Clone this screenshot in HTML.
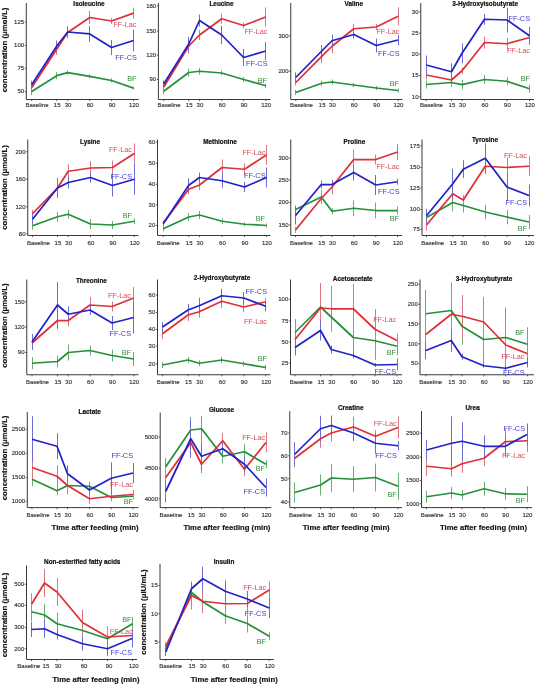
<!DOCTYPE html>
<html><head><meta charset="utf-8"><style>
html,body{margin:0;padding:0;background:#fff;}
svg{display:block;filter:blur(0.3px);font-family:"Liberation Sans",sans-serif;}
.ax{fill:none;stroke:#3a3a3a;stroke-width:1;}
.tk{fill:none;stroke:#3a3a3a;stroke-width:0.8;}
.yt{font-size:6px;fill:#333;stroke:#333;stroke-width:0.15px;text-anchor:end;}
.xt{font-size:6px;fill:#333;stroke:#333;stroke-width:0.15px;text-anchor:middle;}
.eb{fill:none;stroke-width:1;}
.ln{fill:none;stroke-width:1.75;stroke-linejoin:round;}
.gl{font-size:7.3px;text-anchor:end;}
.ti{font-size:6.5px;font-weight:bold;fill:#111;stroke:#111;stroke-width:0.2px;text-anchor:middle;}
.tl{font-size:7.7px;font-weight:bold;fill:#111;stroke:#111;stroke-width:0.15px;text-anchor:middle;}
.yl{font-size:7.8px;font-weight:bold;fill:#111;stroke:#111;stroke-width:0.15px;text-anchor:middle;}
</style></head><body>
<svg width="536" height="685" viewBox="0 0 536 685">
<path d="M26.3 3V99.5H138.7" class="ax"/>
<path d="M24.7 22H26.3" class="tk"/>
<text x="24.1" y="23.9" class="yt">125</text>
<path d="M24.7 45.5H26.3" class="tk"/>
<text x="24.1" y="47.4" class="yt">100</text>
<path d="M24.7 68.2H26.3" class="tk"/>
<text x="24.1" y="70.1" class="yt">75</text>
<path d="M24.7 91.5H26.3" class="tk"/>
<text x="24.1" y="93.4" class="yt">50</text>
<path d="M31.7 99.5V101.1" class="tk"/>
<path d="M56.8 99.5V101.1" class="tk"/>
<path d="M67.7 99.5V101.1" class="tk"/>
<path d="M89.7 99.5V101.1" class="tk"/>
<path d="M111.6 99.5V101.1" class="tk"/>
<path d="M133.5 99.5V101.1" class="tk"/>
<text x="25.5" y="107.4" class="xt" style="text-anchor:start">Baseline</text>
<text x="57.2" y="107.4" class="xt">15</text>
<text x="68.1" y="107.4" class="xt">30</text>
<text x="90.1" y="107.4" class="xt">60</text>
<text x="112" y="107.4" class="xt">90</text>
<text x="133.9" y="107.4" class="xt">120</text>
<path d="M31.5 87.8V95M56.5 72.1V79.3M67.5 70.4V74.8M89.5 74.3V78.3M111.5 78.5V82.5M133.5 86.7V89.7" stroke="#6aae74" class="eb"/>
<path d="M31.5 84.6V90.6M56.5 42.9V54.9M67.5 26.5V38.5M89.5 11V24M111.5 18V24M133.5 7.6V18.6" stroke="#dc7680" class="eb"/>
<path d="M31.5 80.7V88.7M56.5 40.5V51.5M67.5 26.5V37.5M89.5 25.9V41.9M111.5 40V55M133.5 29.5V51.5" stroke="#6c6cd8" class="eb"/>
<polyline points="31.7,91.4 56.8,75.7 67.7,72.6 89.7,76.3 111.6,80.5 133.5,88.2" stroke="#249038" class="ln"/>
<polyline points="31.7,87.6 56.8,48.9 67.7,32.5 89.7,17.5 111.6,21 133.5,13.1" stroke="#df2f38" class="ln"/>
<polyline points="31.7,84.7 56.8,46 67.7,32 89.7,33.9 111.6,47.5 133.5,40.5" stroke="#2222c8" class="ln"/>
<text x="136.5" y="27.4" fill="#d94a56" class="gl">FF-Lac</text>
<text x="136.8" y="59.6" fill="#3c3cc8" class="gl">FF-CS</text>
<text x="136.5" y="81.4" fill="#2f8f3c" class="gl">BF</text>
<text x="89" y="6.3" class="ti" style="font-size:6.4px">Isoleucine</text>
<path d="M158.4 3V99.5H270.5" class="ax"/>
<path d="M156.8 6H158.4" class="tk"/>
<text x="156.2" y="7.9" class="yt">180</text>
<path d="M156.8 31H158.4" class="tk"/>
<text x="156.2" y="32.9" class="yt">150</text>
<path d="M156.8 55.1H158.4" class="tk"/>
<text x="156.2" y="57" class="yt">120</text>
<path d="M156.8 79.5H158.4" class="tk"/>
<text x="156.2" y="81.4" class="yt">90</text>
<path d="M163.75 99.5V101.1" class="tk"/>
<path d="M188.75 99.5V101.1" class="tk"/>
<path d="M199.5 99.5V101.1" class="tk"/>
<path d="M221.75 99.5V101.1" class="tk"/>
<path d="M243.6 99.5V101.1" class="tk"/>
<path d="M265.75 99.5V101.1" class="tk"/>
<text x="157.6" y="107.4" class="xt" style="text-anchor:start">Baseline</text>
<text x="189.15" y="107.4" class="xt">15</text>
<text x="199.9" y="107.4" class="xt">30</text>
<text x="222.15" y="107.4" class="xt">60</text>
<text x="244" y="107.4" class="xt">90</text>
<text x="266.15" y="107.4" class="xt">120</text>
<path d="M163.5 88.25V94.25M188.5 68.5V76.5M199.5 67.75V74.75M221.5 70.5V75.5M243.5 77V82M265.5 83.75V87.75" stroke="#6aae74" class="eb"/>
<path d="M163.5 84V90M188.5 38.5V53.5M199.5 30V40M221.5 13.75V23.75M243.5 22.5V28.5M265.5 7.5V26.5" stroke="#dc7680" class="eb"/>
<path d="M163.5 80.5V87.5M188.5 37V51M199.5 14.5V26.5M221.5 26V44M243.5 49V66M265.5 42V60" stroke="#6c6cd8" class="eb"/>
<polyline points="163.75,91.25 188.75,72.5 199.5,71.25 221.75,73 243.6,79.5 265.75,85.75" stroke="#249038" class="ln"/>
<polyline points="163.75,87 188.75,46 199.5,35 221.75,18.75 243.6,25.5 265.75,17" stroke="#df2f38" class="ln"/>
<polyline points="163.75,84 188.75,44 199.5,20.5 221.75,35 243.6,57.5 265.75,51" stroke="#2222c8" class="ln"/>
<text x="267.5" y="33.6" fill="#d94a56" class="gl">FF-Lac</text>
<text x="267.5" y="65.6" fill="#3c3cc8" class="gl">FF-CS</text>
<text x="267" y="82.6" fill="#2f8f3c" class="gl">BF</text>
<text x="221.5" y="6.3" class="ti" style="font-size:6.4px">Leucine</text>
<path d="M290.75 3V99.5H402.5" class="ax"/>
<path d="M289.15 35.75H290.75" class="tk"/>
<text x="288.55" y="37.65" class="yt">300</text>
<path d="M289.15 71.25H290.75" class="tk"/>
<text x="288.55" y="73.15" class="yt">200</text>
<path d="M295.75 99.5V101.1" class="tk"/>
<path d="M321.75 99.5V101.1" class="tk"/>
<path d="M332 99.5V101.1" class="tk"/>
<path d="M353.75 99.5V101.1" class="tk"/>
<path d="M376.25 99.5V101.1" class="tk"/>
<path d="M398 99.5V101.1" class="tk"/>
<text x="289.95" y="107.4" class="xt" style="text-anchor:start">Baseline</text>
<text x="322.15" y="107.4" class="xt">15</text>
<text x="332.4" y="107.4" class="xt">30</text>
<text x="354.15" y="107.4" class="xt">60</text>
<text x="376.65" y="107.4" class="xt">90</text>
<text x="398.4" y="107.4" class="xt">120</text>
<path d="M295.5 90V95M321.5 80.75V85.75M332.5 79.5V84.5M353.5 83V87M376.5 86V90M398.5 88.5V92.5" stroke="#6aae74" class="eb"/>
<path d="M295.5 79.5V85.5M321.5 49.3V63.3M332.5 39.25V53.25M353.5 23.75V33.75M376.5 24V30M398.5 7.25V25.25" stroke="#dc7680" class="eb"/>
<path d="M295.5 72.5V82.5M321.5 45V57M332.5 34.75V46.75M353.5 30.5V38.5M376.5 38.5V52.5M398.5 35V45" stroke="#6c6cd8" class="eb"/>
<polyline points="295.75,92.5 321.75,83.25 332,82 353.75,85 376.25,88 398,90.5" stroke="#249038" class="ln"/>
<polyline points="295.75,82.5 321.75,56.3 332,46.25 353.75,28.75 376.25,27 398,16.25" stroke="#df2f38" class="ln"/>
<polyline points="295.75,77.5 321.75,51 332,40.75 353.75,34.5 376.25,45.5 398,40" stroke="#2222c8" class="ln"/>
<text x="399.5" y="33.85" fill="#d94a56" class="gl">FF-Lac</text>
<text x="399.5" y="55.85" fill="#3c3cc8" class="gl">FF-CS</text>
<text x="399" y="85.85" fill="#2f8f3c" class="gl">BF</text>
<text x="353.75" y="6.3" class="ti" style="font-size:6.4px">Valine</text>
<path d="M420.75 3V99.5H534" class="ax"/>
<path d="M419.15 11.75H420.75" class="tk"/>
<text x="418.55" y="13.65" class="yt">30</text>
<path d="M419.15 33H420.75" class="tk"/>
<text x="418.55" y="34.9" class="yt">25</text>
<path d="M419.15 54.25H420.75" class="tk"/>
<text x="418.55" y="56.15" class="yt">20</text>
<path d="M419.15 75.5H420.75" class="tk"/>
<text x="418.55" y="77.4" class="yt">15</text>
<path d="M419.15 96.75H420.75" class="tk"/>
<text x="418.55" y="98.65" class="yt">10</text>
<path d="M426.25 99.5V101.1" class="tk"/>
<path d="M451.5 99.5V101.1" class="tk"/>
<path d="M462 99.5V101.1" class="tk"/>
<path d="M484.5 99.5V101.1" class="tk"/>
<path d="M507 99.5V101.1" class="tk"/>
<path d="M529.5 99.5V101.1" class="tk"/>
<text x="419.95" y="107.4" class="xt" style="text-anchor:start">Baseline</text>
<text x="451.9" y="107.4" class="xt">15</text>
<text x="462.4" y="107.4" class="xt">30</text>
<text x="484.9" y="107.4" class="xt">60</text>
<text x="507.4" y="107.4" class="xt">90</text>
<text x="529.9" y="107.4" class="xt">120</text>
<path d="M426.5 80.5V88.5M451.5 78.1V86.9M462.5 80V89.4M484.5 75V84M507.5 77.25V85.25M529.5 84.75V92.75" stroke="#6aae74" class="eb"/>
<path d="M426.5 70.6V79.4M451.5 77V83M462.5 67.45V74.05M484.5 36.5V48.5M507.5 37.75V49.75M529.5 31.5V43.5" stroke="#dc7680" class="eb"/>
<path d="M426.5 55.5V74.5M451.5 63.35V80.15M462.5 43.4V63.2M484.5 13.75V24.75M507.5 7.5V32.5M529.5 26.75V44.75" stroke="#6c6cd8" class="eb"/>
<polyline points="426.25,84.5 451.5,82.5 462,84.7 484.5,79.5 507,81.25 529.5,88.75" stroke="#249038" class="ln"/>
<polyline points="426.25,75 451.5,80 462,70.75 484.5,42.5 507,43.75 529.5,37.5" stroke="#df2f38" class="ln"/>
<polyline points="426.25,65 451.5,71.75 462,53.3 484.5,19.25 507,20 529.5,35.75" stroke="#2222c8" class="ln"/>
<text x="530" y="20.6" fill="#3c3cc8" class="gl">FF-CS</text>
<text x="530" y="52.6" fill="#d94a56" class="gl">FF-Lac</text>
<text x="530" y="80.85" fill="#2f8f3c" class="gl">BF</text>
<text x="485.1" y="6.3" class="ti" style="font-size:6.4px">3-Hydroxyisobutyrate</text>
<path d="M27.75 139.5V235.5H138.5" class="ax"/>
<path d="M26.15 151.75H27.75" class="tk"/>
<text x="25.55" y="153.65" class="yt">200</text>
<path d="M26.15 179.25H27.75" class="tk"/>
<text x="25.55" y="181.15" class="yt">160</text>
<path d="M26.15 206.75H27.75" class="tk"/>
<text x="25.55" y="208.65" class="yt">120</text>
<path d="M26.15 233.75H27.75" class="tk"/>
<text x="25.55" y="235.65" class="yt">80</text>
<path d="M32.5 235.5V237.1" class="tk"/>
<path d="M57.5 235.5V237.1" class="tk"/>
<path d="M68.25 235.5V237.1" class="tk"/>
<path d="M90.5 235.5V237.1" class="tk"/>
<path d="M112.5 235.5V237.1" class="tk"/>
<path d="M134.25 235.5V237.1" class="tk"/>
<text x="26.95" y="245.15" class="xt" style="text-anchor:start">Baseline</text>
<text x="57.9" y="245.15" class="xt">15</text>
<text x="68.65" y="245.15" class="xt">30</text>
<text x="90.9" y="245.15" class="xt">60</text>
<text x="112.9" y="245.15" class="xt">90</text>
<text x="134.65" y="245.15" class="xt">120</text>
<path d="M32.5 221.75V229.75M57.5 211.75V221.75M68.5 209.75V218.75M90.5 219V229M112.5 221V229M134.5 218.25V224.25" stroke="#6aae74" class="eb"/>
<path d="M32.5 209.75V217.75M57.5 182V194M68.5 164.25V178.25M90.5 161V175M112.5 160.5V174.5M134.5 143.5V163.5" stroke="#dc7680" class="eb"/>
<path d="M32.5 214.25V224.25M57.5 178V198M68.5 176.5V188.5M90.5 172.5V182.5M112.5 174.5V196.5M134.5 163.75V194.75" stroke="#6c6cd8" class="eb"/>
<polyline points="32.5,225.75 57.5,216.75 68.25,214.25 90.5,224 112.5,225 134.25,221.25" stroke="#249038" class="ln"/>
<polyline points="32.5,213.75 57.5,188 68.25,171.25 90.5,168 112.5,167.5 134.25,153.5" stroke="#df2f38" class="ln"/>
<polyline points="32.5,219.25 57.5,188 68.25,182.5 90.5,177.5 112.5,185.5 134.25,179.25" stroke="#2222c8" class="ln"/>
<text x="132" y="152.1" fill="#d94a56" class="gl">FF-Lac</text>
<text x="132" y="178.85" fill="#3c3cc8" class="gl">FF-CS</text>
<text x="132" y="218.1" fill="#2f8f3c" class="gl">BF</text>
<text x="90" y="144.05" class="ti" style="font-size:6.4px">Lysine</text>
<path d="M157.5 139.5V235.5H270.5" class="ax"/>
<path d="M155.9 142H157.5" class="tk"/>
<text x="155.3" y="143.9" class="yt">60</text>
<path d="M155.9 163.25H157.5" class="tk"/>
<text x="155.3" y="165.15" class="yt">50</text>
<path d="M155.9 184.25H157.5" class="tk"/>
<text x="155.3" y="186.15" class="yt">40</text>
<path d="M155.9 205H157.5" class="tk"/>
<text x="155.3" y="206.9" class="yt">30</text>
<path d="M155.9 225.5H157.5" class="tk"/>
<text x="155.3" y="227.4" class="yt">20</text>
<path d="M163.25 235.5V237.1" class="tk"/>
<path d="M188.75 235.5V237.1" class="tk"/>
<path d="M199.5 235.5V237.1" class="tk"/>
<path d="M222 235.5V237.1" class="tk"/>
<path d="M244.5 235.5V237.1" class="tk"/>
<path d="M266.5 235.5V237.1" class="tk"/>
<text x="156.7" y="245.15" class="xt" style="text-anchor:start">Baseline</text>
<text x="189.15" y="245.15" class="xt">15</text>
<text x="199.9" y="245.15" class="xt">30</text>
<text x="222.4" y="245.15" class="xt">60</text>
<text x="244.9" y="245.15" class="xt">90</text>
<text x="266.9" y="245.15" class="xt">120</text>
<path d="M163.5 226.25V231.25M188.5 213V221M199.5 211V219M222.5 218.25V224.25M244.5 222.25V226.25M266.5 223.5V227.5" stroke="#6aae74" class="eb"/>
<path d="M163.5 220.5V225.5M188.5 184.25V194.25M199.5 180V190M222.5 159.5V175.5M244.5 163.25V175.25M266.5 145V165" stroke="#dc7680" class="eb"/>
<path d="M163.5 221.25V226.25M188.5 178.3V192.3M199.5 172.5V182.5M222.5 173.75V187.75M244.5 182V192M266.5 167.5V187.5" stroke="#6c6cd8" class="eb"/>
<polyline points="163.25,228.75 188.75,217 199.5,215 222,221.25 244.5,224.25 266.5,225.5" stroke="#249038" class="ln"/>
<polyline points="163.25,223 188.75,189.25 199.5,185 222,167.5 244.5,169.25 266.5,155" stroke="#df2f38" class="ln"/>
<polyline points="163.25,223.75 188.75,185.3 199.5,177.5 222,180.75 244.5,187 266.5,177.5" stroke="#2222c8" class="ln"/>
<text x="265.5" y="155.1" fill="#d94a56" class="gl">FF-Lac</text>
<text x="265.5" y="177.6" fill="#3c3cc8" class="gl">FF-CS</text>
<text x="265" y="220.6" fill="#2f8f3c" class="gl">BF</text>
<text x="220" y="144.05" class="ti" style="font-size:6.4px">Methionine</text>
<path d="M290.75 139.5V235.5H402" class="ax"/>
<path d="M289.15 158H290.75" class="tk"/>
<text x="288.55" y="159.9" class="yt">300</text>
<path d="M289.15 180H290.75" class="tk"/>
<text x="288.55" y="181.9" class="yt">250</text>
<path d="M289.15 202.5H290.75" class="tk"/>
<text x="288.55" y="204.4" class="yt">200</text>
<path d="M289.15 225H290.75" class="tk"/>
<text x="288.55" y="226.9" class="yt">150</text>
<path d="M295.5 235.5V237.1" class="tk"/>
<path d="M321.25 235.5V237.1" class="tk"/>
<path d="M332 235.5V237.1" class="tk"/>
<path d="M353.75 235.5V237.1" class="tk"/>
<path d="M375.75 235.5V237.1" class="tk"/>
<path d="M397.5 235.5V237.1" class="tk"/>
<text x="289.95" y="245.15" class="xt" style="text-anchor:start">Baseline</text>
<text x="321.65" y="245.15" class="xt">15</text>
<text x="332.4" y="245.15" class="xt">30</text>
<text x="354.15" y="245.15" class="xt">60</text>
<text x="376.15" y="245.15" class="xt">90</text>
<text x="397.9" y="245.15" class="xt">120</text>
<path d="M295.5 205.5V213.5M321.5 190V204M332.5 208.25V214.25M353.5 200.25V216.25M375.5 202.5V218.5M397.5 206.5V214.5" stroke="#6aae74" class="eb"/>
<path d="M295.5 227V233M321.5 194.5V202.5M332.5 179.7V194.3M353.5 149.5V169.5M375.5 154.5V164.5M397.5 144V160" stroke="#dc7680" class="eb"/>
<path d="M295.5 206.5V224.5M321.5 180.5V188.5M332.5 180.5V188.5M353.5 164.5V180.5M375.5 175V195M397.5 178.75V184.75" stroke="#6c6cd8" class="eb"/>
<polyline points="295.5,209.5 321.25,197 332,211.25 353.75,208.25 375.75,210.5 397.5,210.5" stroke="#249038" class="ln"/>
<polyline points="295.5,230 321.25,198.5 332,187 353.75,159.5 375.75,159.5 397.5,152" stroke="#df2f38" class="ln"/>
<polyline points="295.5,215.5 321.25,184.5 332,184.5 353.75,172.5 375.75,185 397.5,181.75" stroke="#2222c8" class="ln"/>
<text x="399.5" y="168.85" fill="#d94a56" class="gl">FF-Lac</text>
<text x="399.5" y="193.85" fill="#3c3cc8" class="gl">FF-CS</text>
<text x="399" y="221.35" fill="#2f8f3c" class="gl">BF</text>
<text x="354.4" y="144.05" class="ti" style="font-size:6.4px">Proline</text>
<path d="M422 139.5V235.5H534" class="ax"/>
<path d="M420.4 145.75H422" class="tk"/>
<text x="419.8" y="147.65" class="yt">175</text>
<path d="M420.4 167.5H422" class="tk"/>
<text x="419.8" y="169.4" class="yt">150</text>
<path d="M420.4 188H422" class="tk"/>
<text x="419.8" y="189.9" class="yt">125</text>
<path d="M420.4 209.5H422" class="tk"/>
<text x="419.8" y="211.4" class="yt">100</text>
<path d="M420.4 229.5H422" class="tk"/>
<text x="419.8" y="231.4" class="yt">75</text>
<path d="M426.5 235.5V237.1" class="tk"/>
<path d="M452.75 235.5V237.1" class="tk"/>
<path d="M463.25 235.5V237.1" class="tk"/>
<path d="M485.25 235.5V237.1" class="tk"/>
<path d="M507 235.5V237.1" class="tk"/>
<path d="M529 235.5V237.1" class="tk"/>
<text x="421.2" y="245.15" class="xt" style="text-anchor:start">Baseline</text>
<text x="453.15" y="245.15" class="xt">15</text>
<text x="463.65" y="245.15" class="xt">30</text>
<text x="485.65" y="245.15" class="xt">60</text>
<text x="507.4" y="245.15" class="xt">90</text>
<text x="529.4" y="245.15" class="xt">120</text>
<path d="M426.5 212.5V222.5M452.5 193.5V211.5M463.5 198.5V212.5M485.5 205V219M507.5 209.7V224.3M529.5 215V229" stroke="#6aae74" class="eb"/>
<path d="M426.5 219.2V230.8M452.5 187.75V199.75M463.5 195V205M485.5 158.25V174.25M507.5 157.5V177.5M529.5 156.25V176.25" stroke="#dc7680" class="eb"/>
<path d="M426.5 208.75V222.75M452.5 168.75V198.75M463.5 160.25V178.25M485.5 143.25V173.25M507.5 173V201M529.5 184.5V206.5" stroke="#6c6cd8" class="eb"/>
<polyline points="426.5,217.5 452.75,202.5 463.25,205.5 485.25,212 507,217 529,222" stroke="#249038" class="ln"/>
<polyline points="426.5,225 452.75,193.75 463.25,200 485.25,166.25 507,167.5 529,166.25" stroke="#df2f38" class="ln"/>
<polyline points="426.5,215.75 452.75,183.75 463.25,169.25 485.25,158.25 507,187 529,195.5" stroke="#2222c8" class="ln"/>
<text x="527" y="157.6" fill="#d94a56" class="gl">FF-Lac</text>
<text x="527" y="205.1" fill="#3c3cc8" class="gl">FF-CS</text>
<text x="527" y="230.85" fill="#2f8f3c" class="gl">BF</text>
<text x="485" y="142" class="ti" style="font-size:6.4px">Tyrosine</text>
<path d="M26.75 279.5V374.75H138.5" class="ax"/>
<path d="M25.15 301.75H26.75" class="tk"/>
<text x="24.55" y="303.65" class="yt">150</text>
<path d="M25.15 327H26.75" class="tk"/>
<text x="24.55" y="328.9" class="yt">120</text>
<path d="M25.15 352.5H26.75" class="tk"/>
<text x="24.55" y="354.4" class="yt">90</text>
<path d="M32 374.75V376.35" class="tk"/>
<path d="M57.5 374.75V376.35" class="tk"/>
<path d="M68.25 374.75V376.35" class="tk"/>
<path d="M90 374.75V376.35" class="tk"/>
<path d="M112 374.75V376.35" class="tk"/>
<path d="M133.75 374.75V376.35" class="tk"/>
<text x="25.95" y="383.65" class="xt" style="text-anchor:start">Baseline</text>
<text x="57.9" y="383.65" class="xt">15</text>
<text x="68.65" y="383.65" class="xt">30</text>
<text x="90.4" y="383.65" class="xt">60</text>
<text x="112.4" y="383.65" class="xt">90</text>
<text x="134.15" y="383.65" class="xt">120</text>
<path d="M32.5 357.25V369.25M57.5 355.5V367.5M68.5 344.5V360.5M90.5 345.5V355.5M112.5 349.5V361.5M133.5 352V366" stroke="#6aae74" class="eb"/>
<path d="M32.5 338V348M57.5 311.5V329.5M68.5 314.5V326.5M90.5 297V313M112.5 301.5V311.5M133.5 287V309" stroke="#dc7680" class="eb"/>
<path d="M32.5 334V350M57.5 282V328M68.5 306.25V322.25M90.5 305V315M112.5 316V330M133.5 301.5V333.5" stroke="#6c6cd8" class="eb"/>
<polyline points="32,363.25 57.5,361.5 68.25,352.5 90,350.5 112,355.5 133.75,359" stroke="#249038" class="ln"/>
<polyline points="32,343 57.5,320.5 68.25,320.5 90,305 112,306.5 133.75,298" stroke="#df2f38" class="ln"/>
<polyline points="32,342 57.5,305 68.25,314.25 90,310 112,323 133.75,317.5" stroke="#2222c8" class="ln"/>
<text x="131" y="297.6" fill="#d94a56" class="gl">FF-Lac</text>
<text x="131" y="336.35" fill="#3c3cc8" class="gl">FF-CS</text>
<text x="131" y="355.1" fill="#2f8f3c" class="gl">BF</text>
<text x="91.4" y="283.05" class="ti" style="font-size:6.4px">Threonine</text>
<path d="M157.5 279.5V374.75H270.5" class="ax"/>
<path d="M155.9 295H157.5" class="tk"/>
<text x="155.3" y="296.9" class="yt">60</text>
<path d="M155.9 312.5H157.5" class="tk"/>
<text x="155.3" y="314.4" class="yt">50</text>
<path d="M155.9 329.5H157.5" class="tk"/>
<text x="155.3" y="331.4" class="yt">40</text>
<path d="M155.9 346.25H157.5" class="tk"/>
<text x="155.3" y="348.15" class="yt">30</text>
<path d="M155.9 363.75H157.5" class="tk"/>
<text x="155.3" y="365.65" class="yt">20</text>
<path d="M162.5 374.75V376.35" class="tk"/>
<path d="M188 374.75V376.35" class="tk"/>
<path d="M199.25 374.75V376.35" class="tk"/>
<path d="M221.75 374.75V376.35" class="tk"/>
<path d="M243.75 374.75V376.35" class="tk"/>
<path d="M265.75 374.75V376.35" class="tk"/>
<text x="156.7" y="383.65" class="xt" style="text-anchor:start">Baseline</text>
<text x="188.4" y="383.65" class="xt">15</text>
<text x="199.65" y="383.65" class="xt">30</text>
<text x="222.15" y="383.65" class="xt">60</text>
<text x="244.15" y="383.65" class="xt">90</text>
<text x="266.15" y="383.65" class="xt">120</text>
<path d="M162.5 362V368M188.5 357V363M199.5 360.25V366.25M221.5 357V363M243.5 361.25V366.25M265.5 365V370" stroke="#6aae74" class="eb"/>
<path d="M162.5 328.75V338.75M188.5 309V321M199.5 305.75V317.75M221.5 294.25V308.25M243.5 302V312M265.5 297.75V305.75" stroke="#dc7680" class="eb"/>
<path d="M162.5 322V332M188.5 304V316M199.5 297.75V313.75M221.5 288.75V302.75M243.5 292V304M265.5 301.25V311.25" stroke="#6c6cd8" class="eb"/>
<polyline points="162.5,365 188,360 199.25,363.25 221.75,360 243.75,363.75 265.75,367.5" stroke="#249038" class="ln"/>
<polyline points="162.5,333.75 188,315 199.25,311.75 221.75,301.25 243.75,307 265.75,301.75" stroke="#df2f38" class="ln"/>
<polyline points="162.5,327 188,310 199.25,305.75 221.75,295.75 243.75,298 265.75,306.25" stroke="#2222c8" class="ln"/>
<text x="267" y="293.85" fill="#3c3cc8" class="gl">FF-CS</text>
<text x="267" y="323.85" fill="#d94a56" class="gl">FF-Lac</text>
<text x="267" y="360.6" fill="#2f8f3c" class="gl">BF</text>
<text x="222" y="279.8" class="ti" style="font-size:6.4px">2-Hydroxybutyrate</text>
<path d="M290.5 279.5V374.75H402" class="ax"/>
<path d="M288.9 299.5H290.5" class="tk"/>
<text x="288.3" y="301.4" class="yt">100</text>
<path d="M288.9 320.75H290.5" class="tk"/>
<text x="288.3" y="322.65" class="yt">75</text>
<path d="M288.9 342H290.5" class="tk"/>
<text x="288.3" y="343.9" class="yt">50</text>
<path d="M288.9 363H290.5" class="tk"/>
<text x="288.3" y="364.9" class="yt">25</text>
<path d="M295 374.75V376.35" class="tk"/>
<path d="M320.5 374.75V376.35" class="tk"/>
<path d="M331.25 374.75V376.35" class="tk"/>
<path d="M353.25 374.75V376.35" class="tk"/>
<path d="M375 374.75V376.35" class="tk"/>
<path d="M397 374.75V376.35" class="tk"/>
<text x="289.7" y="383.65" class="xt" style="text-anchor:start">Baseline</text>
<text x="320.9" y="383.65" class="xt">15</text>
<text x="331.65" y="383.65" class="xt">30</text>
<text x="353.65" y="383.65" class="xt">60</text>
<text x="375.4" y="383.65" class="xt">90</text>
<text x="397.4" y="383.65" class="xt">120</text>
<path d="M295.5 319.1V345.9M320.5 283V331M331.5 307V327M353.5 321.5V353.5M375.5 321.75V359.75M397.5 337.25V355.25" stroke="#6aae74" class="eb"/>
<path d="M295.5 327V352M320.5 284V332M331.5 285.75V331.75M353.5 283.75V333.75M375.5 309.25V349.25M397.5 333.8V347.2" stroke="#dc7680" class="eb"/>
<path d="M295.5 339.5V355.5M320.5 320.5V340.5M331.5 345.5V353.5M353.5 352.5V358.5M375.5 363V367M397.5 358.5V370.5" stroke="#6c6cd8" class="eb"/>
<polyline points="295,332.5 320.5,307 331.25,317 353.25,337.5 375,340.75 397,346.25" stroke="#249038" class="ln"/>
<polyline points="295,339.5 320.5,308 331.25,308.75 353.25,308.75 375,329.25 397,340.5" stroke="#df2f38" class="ln"/>
<polyline points="295,347.5 320.5,330.5 331.25,349.5 353.25,355.5 375,365 397,364.5" stroke="#2222c8" class="ln"/>
<text x="396.25" y="322.1" fill="#d94a56" class="gl">FF-Lac</text>
<text x="396" y="354.6" fill="#2f8f3c" class="gl">BF</text>
<text x="396" y="373.85" fill="#3c3cc8" class="gl">FF-CS</text>
<text x="352.75" y="281.05" class="ti" style="font-size:6.4px">Acetoacetate</text>
<path d="M420 279.5V374.75H534" class="ax"/>
<path d="M418.4 284.5H420" class="tk"/>
<text x="417.8" y="286.4" class="yt">250</text>
<path d="M418.4 304.25H420" class="tk"/>
<text x="417.8" y="306.15" class="yt">200</text>
<path d="M418.4 323.75H420" class="tk"/>
<text x="417.8" y="325.65" class="yt">150</text>
<path d="M418.4 343.75H420" class="tk"/>
<text x="417.8" y="345.65" class="yt">100</text>
<path d="M418.4 363.25H420" class="tk"/>
<text x="417.8" y="365.15" class="yt">50</text>
<path d="M425.75 374.75V376.35" class="tk"/>
<path d="M451.25 374.75V376.35" class="tk"/>
<path d="M462 374.75V376.35" class="tk"/>
<path d="M483.75 374.75V376.35" class="tk"/>
<path d="M505.75 374.75V376.35" class="tk"/>
<path d="M527.5 374.75V376.35" class="tk"/>
<text x="419.2" y="383.65" class="xt" style="text-anchor:start">Baseline</text>
<text x="451.65" y="383.65" class="xt">15</text>
<text x="462.4" y="383.65" class="xt">30</text>
<text x="484.15" y="383.65" class="xt">60</text>
<text x="506.15" y="383.65" class="xt">90</text>
<text x="527.9" y="383.65" class="xt">120</text>
<path d="M425.5 289.75V337.75M451.5 282.5V338.5M462.5 307.85V344.65M483.5 314V365M505.5 307.5V367.5M527.5 327.25V361.25" stroke="#6aae74" class="eb"/>
<path d="M425.5 321.5V347.5M451.5 293.25V335.25M462.5 295V337.5M483.5 297V347M505.5 327V363M527.5 347.75V359.75" stroke="#dc7680" class="eb"/>
<path d="M425.5 341.8V359.2M451.5 329.1V351.9M462.5 353.75V359.75M483.5 363.75V367.75M505.5 365.25V371.25M527.5 357.5V367.5" stroke="#6c6cd8" class="eb"/>
<polyline points="425.75,313.75 451.25,310.5 462,326.25 483.75,339.5 505.75,337.5 527.5,344.25" stroke="#249038" class="ln"/>
<polyline points="425.75,334.5 451.25,314.25 462,316.25 483.75,322 505.75,345 527.5,353.75" stroke="#df2f38" class="ln"/>
<polyline points="425.75,350.5 451.25,340.5 462,356.75 483.75,365.75 505.75,368.25 527.5,362.5" stroke="#2222c8" class="ln"/>
<text x="524.5" y="334.6" fill="#2f8f3c" class="gl">BF</text>
<text x="524.5" y="358.85" fill="#d94a56" class="gl">FF-Lac</text>
<text x="524.5" y="374.6" fill="#3c3cc8" class="gl">FF-CS</text>
<text x="484" y="280.55" class="ti" style="font-size:6.4px">3-Hydroxybutyrate</text>
<path d="M27.3 412V507.6H138.5" class="ax"/>
<path d="M25.7 429.25H27.3" class="tk"/>
<text x="25.1" y="431.15" class="yt">2500</text>
<path d="M25.7 453.25H27.3" class="tk"/>
<text x="25.1" y="455.15" class="yt">2000</text>
<path d="M25.7 477.5H27.3" class="tk"/>
<text x="25.1" y="479.4" class="yt">1500</text>
<path d="M25.7 501.25H27.3" class="tk"/>
<text x="25.1" y="503.15" class="yt">1000</text>
<path d="M32 507.6V509.2" class="tk"/>
<path d="M57 507.6V509.2" class="tk"/>
<path d="M67.5 507.6V509.2" class="tk"/>
<path d="M89.5 507.6V509.2" class="tk"/>
<path d="M111.25 507.6V509.2" class="tk"/>
<path d="M133 507.6V509.2" class="tk"/>
<text x="26.5" y="516.9" class="xt" style="text-anchor:start">Baseline</text>
<text x="57.4" y="516.9" class="xt">15</text>
<text x="67.9" y="516.9" class="xt">30</text>
<text x="89.9" y="516.9" class="xt">60</text>
<text x="111.65" y="516.9" class="xt">90</text>
<text x="133.4" y="516.9" class="xt">120</text>
<path d="M32.5 472.25V486.25M57.5 486.25V495.25M67.5 482.5V488.5M89.5 481.75V490.75M111.5 494.5V500.5M133.5 493.25V499.25" stroke="#6aae74" class="eb"/>
<path d="M32.5 455V480M57.5 465.25V487.25M67.5 476.5V494.5M89.5 493.75V503.75M111.5 491.25V501.25M133.5 490V499" stroke="#dc7680" class="eb"/>
<path d="M32.5 416.25V462.25M57.5 433.25V459.25M67.5 465.25V482.25M89.5 485V495M111.5 462.25V494.25M133.5 463V483" stroke="#6c6cd8" class="eb"/>
<polyline points="32,479.25 57,490.75 67.5,485.5 89.5,486.25 111.25,497.5 133,496.25" stroke="#249038" class="ln"/>
<polyline points="32,467.5 57,476.25 67.5,485.5 89.5,498.75 111.25,496.25 133,494.5" stroke="#df2f38" class="ln"/>
<polyline points="32,439.25 57,446.25 67.5,473.75 89.5,490 111.25,478.25 133,473" stroke="#2222c8" class="ln"/>
<text x="133" y="457.6" fill="#3c3cc8" class="gl">FF-CS</text>
<text x="133" y="487.1" fill="#d94a56" class="gl">FF-Lac</text>
<text x="133" y="503.85" fill="#2f8f3c" class="gl">BF</text>
<text x="89.75" y="414.05" class="ti" style="font-size:6.4px">Lactate</text>
<text x="95.1" y="529.8" class="tl">Time after feeding (min)</text>
<path d="M160.2 412.5V507.6H271.3" class="ax"/>
<path d="M158.6 437H160.2" class="tk"/>
<text x="158" y="438.9" class="yt">5000</text>
<path d="M158.6 468H160.2" class="tk"/>
<text x="158" y="469.9" class="yt">4500</text>
<path d="M158.6 498.75H160.2" class="tk"/>
<text x="158" y="500.65" class="yt">4000</text>
<path d="M165.75 507.6V509.2" class="tk"/>
<path d="M190.75 507.6V509.2" class="tk"/>
<path d="M201.5 507.6V509.2" class="tk"/>
<path d="M222.75 507.6V509.2" class="tk"/>
<path d="M244.5 507.6V509.2" class="tk"/>
<path d="M266 507.6V509.2" class="tk"/>
<text x="159.4" y="516.9" class="xt" style="text-anchor:start">Baseline</text>
<text x="191.15" y="516.9" class="xt">15</text>
<text x="201.9" y="516.9" class="xt">30</text>
<text x="223.15" y="516.9" class="xt">60</text>
<text x="244.9" y="516.9" class="xt">90</text>
<text x="266.4" y="516.9" class="xt">120</text>
<path d="M165.5 457.75V475.75M190.5 417V443M201.5 415.75V441.75M222.5 449.25V463.25M244.5 443.75V459.75M266.5 460.25V468.25" stroke="#6aae74" class="eb"/>
<path d="M165.5 471.5V483.5M190.5 434.5V450.5M201.5 455.25V473.25M222.5 432.75V448.75M244.5 462.25V476.25M266.5 432.5V452.5" stroke="#dc7680" class="eb"/>
<path d="M165.5 480.25V502.25M190.5 419.75V457.75M201.5 442.25V470.25M222.5 442.75V454.75M244.5 456.25V472.25M266.5 478.5V496.5" stroke="#6c6cd8" class="eb"/>
<polyline points="165.75,466.75 190.75,430 201.5,428.75 222.75,456.25 244.5,451.75 266,464.25" stroke="#249038" class="ln"/>
<polyline points="165.75,477.5 190.75,442.5 201.5,464.25 222.75,440.75 244.5,469.25 266,442.5" stroke="#df2f38" class="ln"/>
<polyline points="165.75,491.25 190.75,438.75 201.5,456.25 222.75,448.75 244.5,464.25 266,487.5" stroke="#2222c8" class="ln"/>
<text x="265.25" y="439.6" fill="#d94a56" class="gl">FF-Lac</text>
<text x="265" y="471.35" fill="#2f8f3c" class="gl">BF</text>
<text x="265" y="493.85" fill="#3c3cc8" class="gl">FF-CS</text>
<text x="221.5" y="411.8" class="ti" style="font-size:6.4px">Glucose</text>
<text x="226.9" y="529.8" class="tl">Time after feeding (min)</text>
<path d="M289.75 411.25V507.6H402" class="ax"/>
<path d="M288.15 433H289.75" class="tk"/>
<text x="287.55" y="434.9" class="yt">70</text>
<path d="M288.15 455.75H289.75" class="tk"/>
<text x="287.55" y="457.65" class="yt">60</text>
<path d="M288.15 478.75H289.75" class="tk"/>
<text x="287.55" y="480.65" class="yt">50</text>
<path d="M288.15 502H289.75" class="tk"/>
<text x="287.55" y="503.9" class="yt">40</text>
<path d="M294.75 507.6V509.2" class="tk"/>
<path d="M320.5 507.6V509.2" class="tk"/>
<path d="M331.25 507.6V509.2" class="tk"/>
<path d="M353.5 507.6V509.2" class="tk"/>
<path d="M375.5 507.6V509.2" class="tk"/>
<path d="M398 507.6V509.2" class="tk"/>
<text x="288.95" y="516.9" class="xt" style="text-anchor:start">Baseline</text>
<text x="320.9" y="516.9" class="xt">15</text>
<text x="331.65" y="516.9" class="xt">30</text>
<text x="353.9" y="516.9" class="xt">60</text>
<text x="375.9" y="516.9" class="xt">90</text>
<text x="398.4" y="516.9" class="xt">120</text>
<path d="M294.5 482.5V502.5M320.5 474.5V495.5M331.5 464V492M353.5 466.25V492.25M375.5 463.5V491.5M398.5 472.75V499.75" stroke="#6aae74" class="eb"/>
<path d="M294.5 449.25V467.25M320.5 429.75V447.75M331.5 424.5V441.5M353.5 416.5V437.5M375.5 430.25V442.25M398.5 416.5V438.5" stroke="#dc7680" class="eb"/>
<path d="M294.5 442.25V466.25M320.5 415.75V441.75M331.5 415.5V435.5M353.5 425V441M375.5 432.75V453.75M398.5 441.05V450.45" stroke="#6c6cd8" class="eb"/>
<polyline points="294.75,492.5 320.5,485 331.25,478 353.5,479.25 375.5,477.5 398,486.25" stroke="#249038" class="ln"/>
<polyline points="294.75,458.25 320.5,438.75 331.25,433 353.5,427 375.5,436.25 398,427.5" stroke="#df2f38" class="ln"/>
<polyline points="294.75,454.25 320.5,428.75 331.25,425.5 353.5,433 375.5,443.25 398,445.75" stroke="#2222c8" class="ln"/>
<text x="396.75" y="426.35" fill="#d94a56" class="gl">FF-Lac</text>
<text x="396.75" y="458.35" fill="#3c3cc8" class="gl">FF-CS</text>
<text x="396.75" y="496.85" fill="#2f8f3c" class="gl">BF</text>
<text x="350.75" y="410.3" class="ti" style="font-size:6.4px">Creatine</text>
<text x="346.2" y="530.3" class="tl">Time after feeding (min)</text>
<path d="M421.5 411V507.6H532" class="ax"/>
<path d="M419.9 433.25H421.5" class="tk"/>
<text x="419.3" y="435.15" class="yt">2500</text>
<path d="M419.9 457H421.5" class="tk"/>
<text x="419.3" y="458.9" class="yt">2000</text>
<path d="M419.9 480.5H421.5" class="tk"/>
<text x="419.3" y="482.4" class="yt">1500</text>
<path d="M419.9 503.75H421.5" class="tk"/>
<text x="419.3" y="505.65" class="yt">1000</text>
<path d="M426.5 507.6V509.2" class="tk"/>
<path d="M451.5 507.6V509.2" class="tk"/>
<path d="M462 507.6V509.2" class="tk"/>
<path d="M484 507.6V509.2" class="tk"/>
<path d="M505.25 507.6V509.2" class="tk"/>
<path d="M527 507.6V509.2" class="tk"/>
<text x="420.7" y="516.9" class="xt" style="text-anchor:start">Baseline</text>
<text x="451.9" y="516.9" class="xt">15</text>
<text x="462.4" y="516.9" class="xt">30</text>
<text x="484.4" y="516.9" class="xt">60</text>
<text x="505.65" y="516.9" class="xt">90</text>
<text x="527.4" y="516.9" class="xt">120</text>
<path d="M426.5 490.75V502.75M451.5 487V499M462.5 490V500M484.5 481.75V495.75M505.5 487.75V499.75M527.5 486.25V502.25" stroke="#6aae74" class="eb"/>
<path d="M426.5 456.25V476.25M451.5 460.75V476.75M462.5 454.75V472.75M484.5 450.25V466.25M505.5 429.25V454.25M527.5 429.75V451.75" stroke="#dc7680" class="eb"/>
<path d="M426.5 440V460M451.5 416.25V470.25M462.5 422.25V460.25M484.5 435.25V457.25M505.5 435.25V457.25M527.5 423.5V445.5" stroke="#6c6cd8" class="eb"/>
<polyline points="426.5,496.75 451.5,493 462,495 484,488.75 505.25,493.75 527,494.25" stroke="#249038" class="ln"/>
<polyline points="426.5,466.25 451.5,468.75 462,463.75 484,458.25 505.25,441.75 527,440.75" stroke="#df2f38" class="ln"/>
<polyline points="426.5,450 451.5,443.25 462,441.25 484,446.25 505.25,446.25 527,434.5" stroke="#2222c8" class="ln"/>
<text x="525" y="430.6" fill="#3c3cc8" class="gl">FF-CS</text>
<text x="525" y="458.35" fill="#d94a56" class="gl">FF-Lac</text>
<text x="525" y="503.35" fill="#2f8f3c" class="gl">BF</text>
<text x="472.6" y="410.3" class="ti" style="font-size:6.4px">Urea</text>
<text x="483.5" y="530.3" class="tl">Time after feeding (min)</text>
<path d="M26.5 565.5V659.5H137" class="ax"/>
<path d="M24.9 584.25H26.5" class="tk"/>
<text x="24.3" y="586.15" class="yt">500</text>
<path d="M24.9 605.5H26.5" class="tk"/>
<text x="24.3" y="607.4" class="yt">400</text>
<path d="M24.9 627.5H26.5" class="tk"/>
<text x="24.3" y="629.4" class="yt">300</text>
<path d="M24.9 648.75H26.5" class="tk"/>
<text x="24.3" y="650.65" class="yt">200</text>
<path d="M31.5 659.5V661.1" class="tk"/>
<path d="M44.5 659.5V661.1" class="tk"/>
<path d="M57 659.5V661.1" class="tk"/>
<path d="M82.5 659.5V661.1" class="tk"/>
<path d="M107.5 659.5V661.1" class="tk"/>
<path d="M132.5 659.5V661.1" class="tk"/>
<text x="17.3" y="668.3" class="xt" style="text-anchor:start">Baseline</text>
<text x="45.9" y="668.3" class="xt">15</text>
<text x="58" y="668.3" class="xt">30</text>
<text x="84" y="668.3" class="xt">60</text>
<text x="109" y="668.3" class="xt">90</text>
<text x="133.7" y="668.3" class="xt">120</text>
<path d="M31.5 602.25V621.25M44.5 604V626M57.5 612.75V634.75M82.5 622.5V638.5M107.5 632.75V644.75M132.5 617.05V630.45" stroke="#6aae74" class="eb"/>
<path d="M31.5 593.25V615.25M44.5 569V597M57.5 578V606M82.5 609.5V635.5M107.5 626.4V647.6M132.5 633V638" stroke="#dc7680" class="eb"/>
<path d="M31.5 622V637M44.5 619.75V637.75M57.5 629.5V639.5M82.5 636.75V650.75M107.5 641.45V656.05M132.5 629.25V647.25" stroke="#6c6cd8" class="eb"/>
<polyline points="31.5,611.75 44.5,615 57,623.75 82.5,630.5 107.5,638.75 132.5,623.75" stroke="#249038" class="ln"/>
<polyline points="31.5,604.25 44.5,583 57,592 82.5,622.5 107.5,637 132.5,635.5" stroke="#df2f38" class="ln"/>
<polyline points="31.5,629.5 44.5,628.75 57,634.5 82.5,643.75 107.5,648.75 132.5,638.25" stroke="#2222c8" class="ln"/>
<text x="131.5" y="622.1" fill="#2f8f3c" class="gl">BF</text>
<text x="132.8" y="633.9" fill="#d94a56" class="gl">FF-Lac</text>
<text x="132" y="655.3" fill="#3c3cc8" class="gl">FF-CS</text>
<text x="82.2" y="563.9" class="ti" style="font-size:6.4px">Non-esterified fatty acids</text>
<text x="96" y="682.3" class="tl">Time after feeding (min)</text>
<path d="M160 563.75V659.5H273.75" class="ax"/>
<path d="M158.4 585.5H160" class="tk"/>
<text x="157.8" y="587.4" class="yt">15</text>
<path d="M158.4 613.75H160" class="tk"/>
<text x="157.8" y="615.65" class="yt">10</text>
<path d="M158.4 642H160" class="tk"/>
<text x="157.8" y="643.9" class="yt">5</text>
<path d="M165.75 659.5V661.1" class="tk"/>
<path d="M191.5 659.5V661.1" class="tk"/>
<path d="M202.75 659.5V661.1" class="tk"/>
<path d="M225.25 659.5V661.1" class="tk"/>
<path d="M247.25 659.5V661.1" class="tk"/>
<path d="M269.25 659.5V661.1" class="tk"/>
<text x="159.2" y="668.4" class="xt" style="text-anchor:start">Baseline</text>
<text x="191.9" y="668.4" class="xt">15</text>
<text x="203.15" y="668.4" class="xt">30</text>
<text x="225.65" y="668.4" class="xt">60</text>
<text x="247.65" y="668.4" class="xt">90</text>
<text x="269.65" y="668.4" class="xt">120</text>
<path d="M165.5 646.5V652.5M191.5 588.5V596.5M202.5 593.75V609.75M225.5 607.75V623.75M247.5 614.5V632.5M269.5 632.25V640.25" stroke="#6aae74" class="eb"/>
<path d="M165.5 642.25V650.25M191.5 581.5V609.5M202.5 589.25V613.25M225.5 592.75V614.75M247.5 593.5V613.5M269.5 581.5V598.5" stroke="#dc7680" class="eb"/>
<path d="M165.5 648V656M191.5 582.75V594.75M202.5 566.75V590.75M225.5 580.25V602.25M247.5 591V607M269.5 598V618" stroke="#6c6cd8" class="eb"/>
<polyline points="165.75,649.5 191.5,592.5 202.75,601.75 225.25,615.75 247.25,623.5 269.25,636.25" stroke="#249038" class="ln"/>
<polyline points="165.75,646.25 191.5,595.5 202.75,601.25 225.25,603.75 247.25,603.5 269.25,590" stroke="#df2f38" class="ln"/>
<polyline points="165.75,652 191.5,588.75 202.75,578.75 225.25,591.25 247.25,599 269.25,608" stroke="#2222c8" class="ln"/>
<text x="266.25" y="589.6" fill="#d94a56" class="gl">FF-Lac</text>
<text x="266.25" y="616.35" fill="#3c3cc8" class="gl">FF-CS</text>
<text x="266" y="643.85" fill="#2f8f3c" class="gl">BF</text>
<text x="224" y="564.05" class="ti" style="font-size:6.4px">Insulin</text>
<text x="234.25" y="682.3" class="tl">Time after feeding (min)</text>
<text transform="translate(6.9 50) rotate(-90)" class="yl">concentration (μmol/L)</text>
<text transform="translate(7.4 187.5) rotate(-90)" class="yl">concentration (μmol/L)</text>
<text transform="translate(6.9 325.6) rotate(-90)" class="yl">concentration (μmol/L)</text>
<text transform="translate(6.9 458) rotate(-90)" class="yl">concentration (μmol/L)</text>
<text transform="translate(6.9 615) rotate(-90)" class="yl">concentration (μmol/L)</text>
<text transform="translate(146.2 612) rotate(-90)" class="yl">concentration (μIU/mL)</text>
</svg>
</body></html>
